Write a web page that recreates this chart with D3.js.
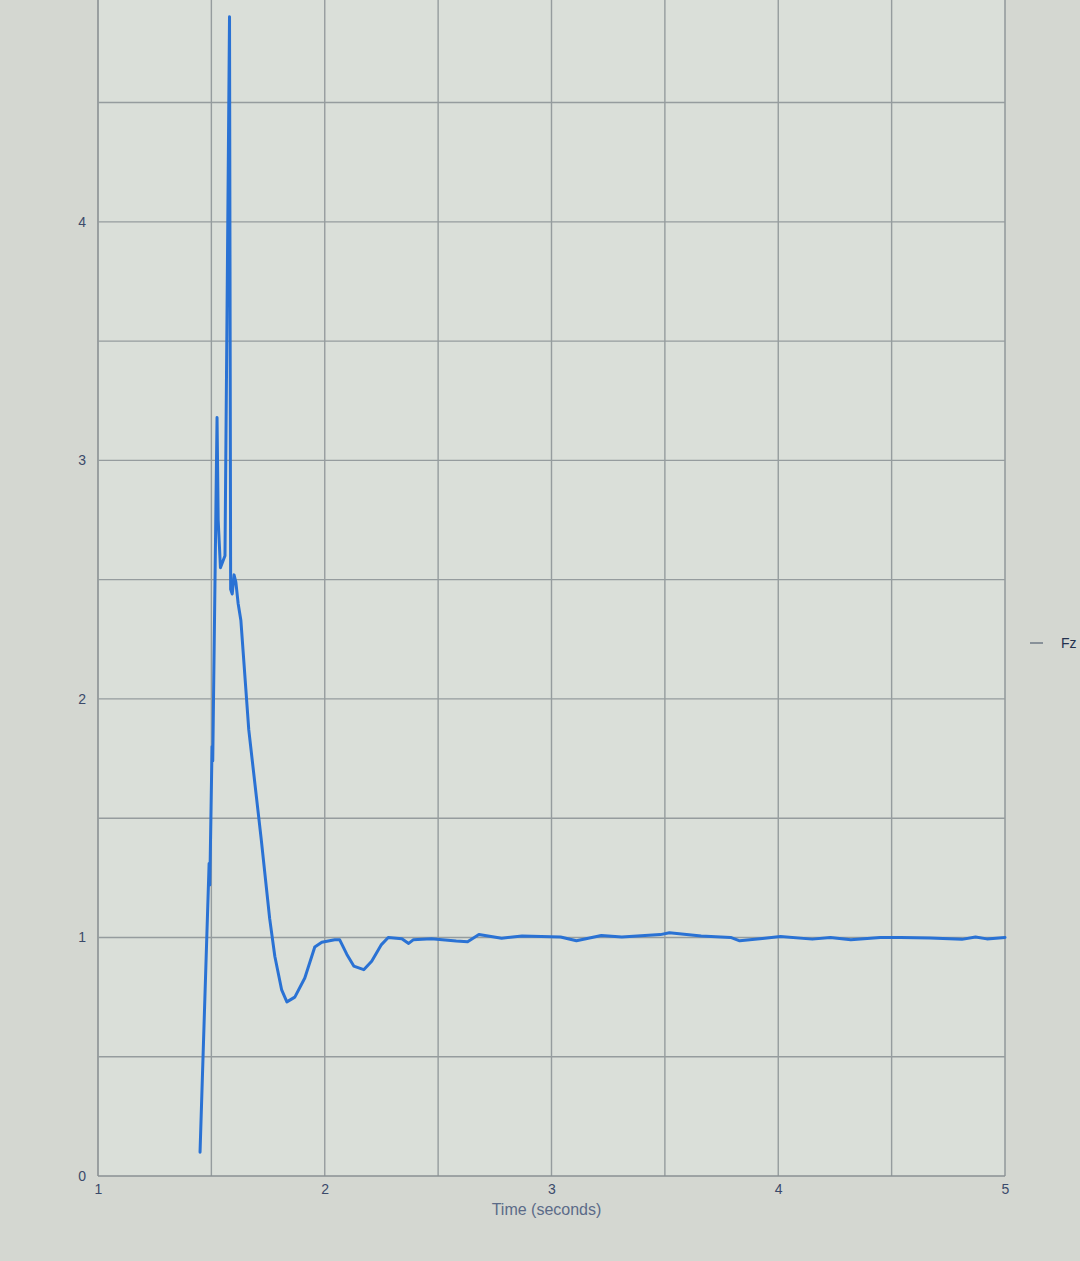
<!DOCTYPE html>
<html>
<head>
<meta charset="utf-8">
<script src="https://cdn.jsdelivr.net/npm/d3@7"></script>
<style>
  html, body { margin: 0; padding: 0; background: #d4d7d1; }
  svg { display: block; }
</style>
</head>
<body>
<svg id="chart" width="1080" height="1261"></svg>
<script>
// ---- data ----
const seriesName = "Fz";
const xTickValues = [1, 2, 3, 4, 5];
const xTickLabels = ["1", "2", "3", "4", "5"];
const yTickValues = [0, 1, 2, 3, 4];
const yTickLabels = ["0", "1", "2", "3", "4"];
const xGridValues = [1, 1.5, 2, 2.5, 3, 3.5, 4, 4.5, 5];
const yGridValues = [0, 0.5, 1, 1.5, 2, 2.5, 3, 3.5, 4, 4.5];
const xTitle = "Time (seconds)";

const time = [
  1.450, 1.490, 1.493, 1.503, 1.506, 1.525, 1.530, 1.540, 1.560, 1.580,
  1.585, 1.592, 1.600, 1.608, 1.618, 1.630, 1.665, 1.720, 1.757, 1.780,
  1.810, 1.833, 1.868, 1.912, 1.956, 1.987, 2.044, 2.066, 2.097, 2.128,
  2.172, 2.207, 2.250, 2.280, 2.340, 2.370, 2.390, 2.470, 2.580, 2.630,
  2.680, 2.780, 2.870, 3.040, 3.110, 3.220, 3.310, 3.480, 3.520, 3.660,
  3.790, 3.830, 3.930, 4.010, 4.150, 4.230, 4.320, 4.450, 4.540, 4.670,
  4.810, 4.870, 4.920, 5.000
];
const fz = [
  0.10, 1.31, 1.22, 1.80, 1.74, 3.18, 2.75, 2.55, 2.60, 4.86,
  2.46, 2.44, 2.52, 2.49, 2.40, 2.33, 1.87, 1.41, 1.08, 0.92,
  0.78, 0.73, 0.75, 0.83, 0.96, 0.98, 0.99, 0.99, 0.93, 0.88,
  0.865, 0.90, 0.97, 1.00, 0.995, 0.975, 0.99, 0.995, 0.985, 0.982,
  1.012, 0.997, 1.006, 1.002, 0.986, 1.008, 1.002, 1.012, 1.02, 1.006,
  1.0, 0.986, 0.996, 1.004, 0.993, 1.0, 0.99, 1.0, 1.0, 0.998,
  0.992, 1.002, 0.994, 1.0
];

// ---- layout ----
const svg = d3.select("#chart");
const L = 98, R = 1005, T = 0, B = 1176;

const x = d3.scaleLinear().domain([1, 5]).range([L, R]);
const y = d3.scaleLinear().domain([0, 4.93]).range([B, T]);

// plot background
svg.append("rect")
  .attr("x", L).attr("y", T)
  .attr("width", R - L).attr("height", B - T)
  .attr("fill", "#dadfd9");

// grid
const grid = svg.append("g");
grid.selectAll("line.v").data(xGridValues).enter().append("line")
  .attr("class", "v")
  .attr("x1", d => x(d)).attr("x2", d => x(d))
  .attr("y1", T).attr("y2", B)
  .attr("stroke", d => d === 1 ? "#8a9093" : "#959c9e")
  .attr("stroke-width", d => (d === 1 || d === 5) ? 1.6 : 1.4);
grid.selectAll("line.h").data(yGridValues).enter().append("line")
  .attr("class", "h")
  .attr("x1", L).attr("x2", R)
  .attr("y1", d => y(d)).attr("y2", d => y(d))
  .attr("stroke", d => d === 0 ? "#8a9093" : "#959c9e")
  .attr("stroke-width", d => d === 0 ? 1.6 : 1.4);

// axes (labels only, via d3 axis generators)
const xAxis = d3.axisBottom(x).tickValues(xTickValues)
  .tickFormat((d, i) => xTickLabels[i]).tickSize(0).tickPadding(8);
const gx = svg.append("g").attr("transform", `translate(0,${B})`).call(xAxis);
gx.select(".domain").remove();
gx.selectAll("text").attr("fill", "#3b4a6a")
  .style("font-family", "Liberation Sans, Arial, sans-serif").style("font-size", "14px");

const yAxis = d3.axisLeft(y).tickValues(yTickValues)
  .tickFormat((d, i) => yTickLabels[i]).tickSize(0).tickPadding(12);
const gy = svg.append("g").attr("transform", `translate(${L},0)`).call(yAxis);
gy.select(".domain").remove();
gy.selectAll("text").attr("fill", "#3b4a6a")
  .style("font-family", "Liberation Sans, Arial, sans-serif").style("font-size", "14px");

// axis title
svg.append("text")
  .attr("x", (L + R) / 2 - 5).attr("y", B + 39)
  .attr("text-anchor", "middle")
  .attr("fill", "#5b6b88")
  .style("font-family", "Liberation Sans, Arial, sans-serif")
  .style("font-size", "16px")
  .text(xTitle);

// series line
const pts = time.map((t, i) => [t, fz[i]]);
const line = d3.line().x(d => x(d[0])).y(d => y(d[1]));
svg.append("path")
  .datum(pts)
  .attr("d", line)
  .attr("fill", "none")
  .attr("stroke", "#2a72d4")
  .attr("stroke-width", 3)
  .attr("stroke-linejoin", "round")
  .attr("stroke-linecap", "round");

// legend
const lg = svg.append("g").attr("transform", "translate(1030,643)");
lg.append("line").attr("x1", 0).attr("x2", 13).attr("y1", 0).attr("y2", 0)
  .attr("stroke", "#6f7a86").attr("stroke-width", 1.5);
lg.append("text").attr("x", 31).attr("y", 5)
  .attr("fill", "#24324f")
  .style("font-family", "Liberation Sans, Arial, sans-serif")
  .style("font-size", "14px")
  .text(seriesName);
</script>
</body>
</html>
